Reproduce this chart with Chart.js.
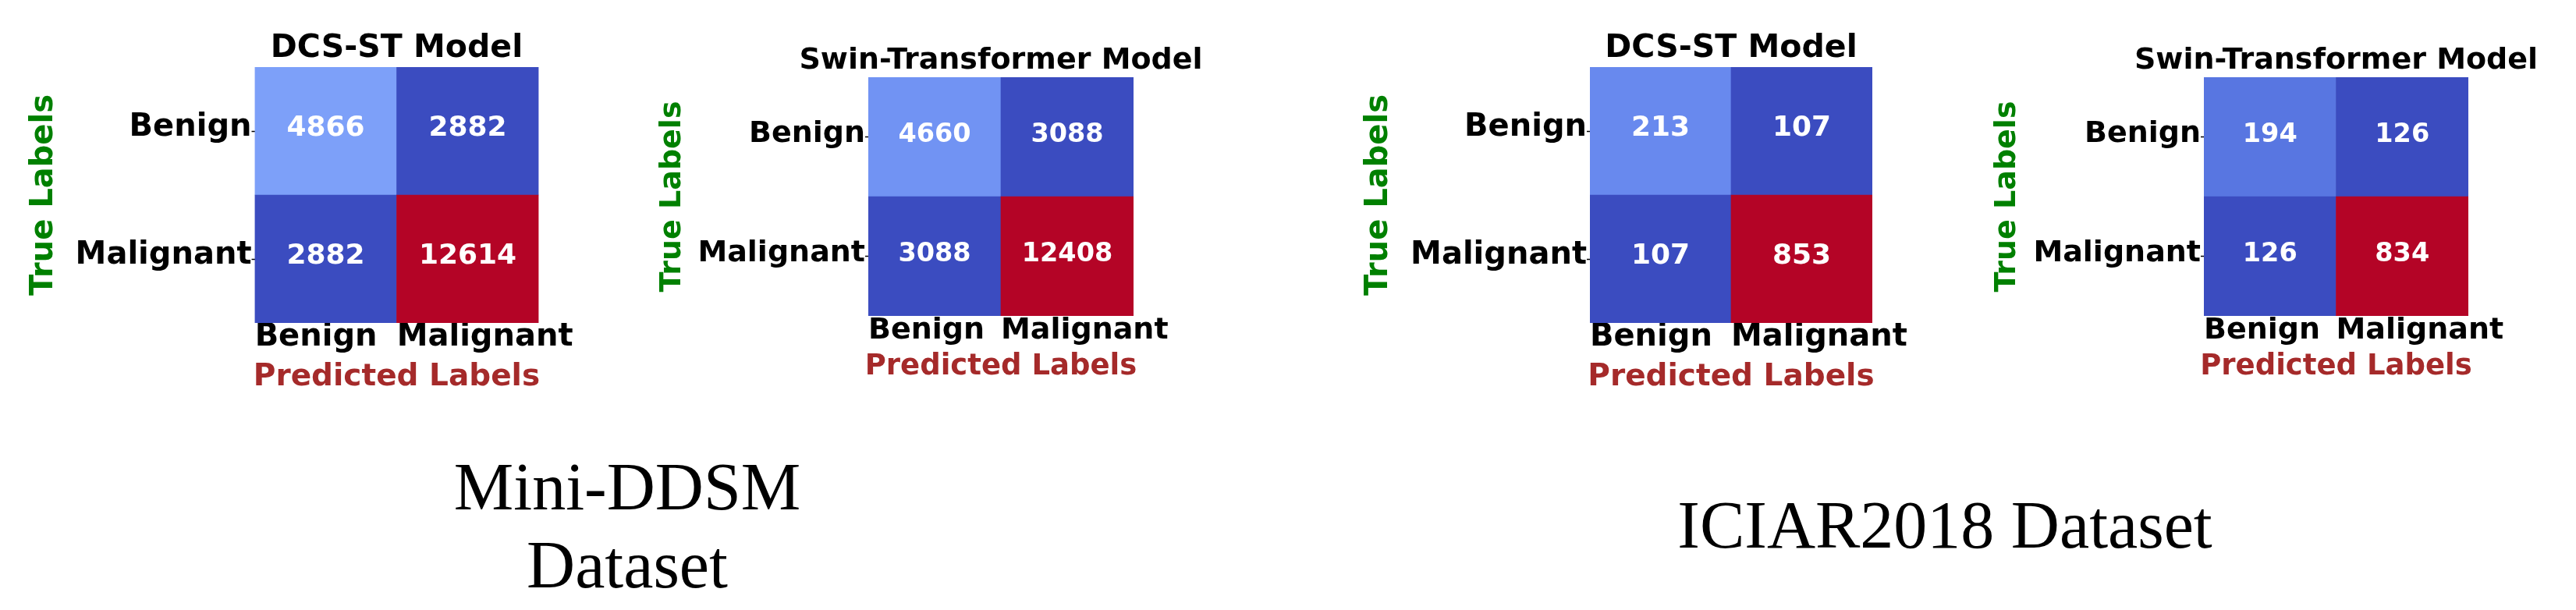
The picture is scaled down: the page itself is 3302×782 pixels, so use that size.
<!DOCTYPE html>
<html>
<head>
<meta charset="utf-8">
<script src="https://cdn.jsdelivr.net/npm/chart.js@4.4.1/dist/chart.umd.min.js"></script>
<style>
  html, body { margin: 0; padding: 0; background: #fff; overflow: hidden; }
  body { width: 3302px; height: 782px; position: relative; }
  canvas.panel { position: absolute; top: 0; }
  .caption {
    position: absolute;
    font-family: 'Liberation Serif', 'Times New Roman', serif;
    font-size: 86px;
    line-height: 100px;
    color: #000;
    text-align: center;
    white-space: nowrap;
  }
</style>
</head>
<body>
<canvas id="cm0" class="panel"></canvas>
<canvas id="cm1" class="panel"></canvas>
<canvas id="cm2" class="panel"></canvas>
<canvas id="cm3" class="panel"></canvas>
<div id="cap0" class="caption" style="left:504px; top:574px; width:600px;"></div>
<div id="cap1" class="caption" style="left:2043px; top:623px; width:900px;"></div>
<script>
// class names (rows = true label, columns = predicted label)
const classLabels = ['Benign', 'Malignant'];
const panelTitles = ['DCS-ST Model', 'Swin-Transformer Model', 'DCS-ST Model', 'Swin-Transformer Model'];

// confusion matrices, rows: true Benign / Malignant
const miniDdsmDcsSt = [[4866, 2882], [2882, 12614]];
const miniDdsmSwin = [[4660, 3088], [3088, 12408]];
const iciarDcsSt = [[213, 107], [107, 853]];
const iciarSwin = [[194, 126], [126, 834]];

const datasetCaptions = [['Mini-DDSM', 'Dataset'], ['ICIAR2018 Dataset']];

const matrices = [miniDdsmDcsSt, miniDdsmSwin, iciarDcsSt, iciarSwin];

// placement of each panel on the page
const panelLayout = [
  {left: 0,     axisW: 326.5, plotW: 363.5, title: 41, font: 40, num: 36,   pred: 39, padTop: 42,   titleGap: 3,   yTitlePad: 37, xTickPad: -1, subPad: 10, padBottom: 17, yShift: -4},
  {left: 812.8, axisW: 300,   plotW: 340.2, title: 38, font: 38, num: 33.5, pred: 37, padTop: 59.5, titleGap: 1.5, yTitlePad: 30, xTickPad: 0,  subPad: 7,  padBottom: 31, yShift: -3.5},
  {left: 1738,  axisW: 300,   plotW: 362,   title: 41, font: 40, num: 36,   pred: 39, padTop: 42,   titleGap: 3,   yTitlePad: 10, xTickPad: -1, subPad: 10, padBottom: 17, yShift: -4},
  {left: 2525,  axisW: 300,   plotW: 339,   title: 38, font: 38, num: 33.5, pred: 37, padTop: 59.5, titleGap: 1.5, yTitlePad: 29, xTickPad: 0,  subPad: 7,  padBottom: 31, yShift: -3.5},
];

// matplotlib coolwarm, sampled every 1/16
const coolwarm = [
  [59,76,192],[77,104,215],[98,130,234],[119,154,247],[141,176,254],[163,194,255],
  [184,208,249],[204,217,238],[221,221,221],[236,211,197],[245,196,173],[247,177,148],
  [244,154,123],[236,127,99],[222,96,77],[203,62,56],[180,4,38]
];
function coolwarmColor(t) {
  t = Math.min(1, Math.max(0, t));
  const p = t * (coolwarm.length - 1);
  const i = Math.min(coolwarm.length - 2, Math.floor(p));
  const f = p - i;
  const c = coolwarm[i].map((v, k) => Math.round(v + (coolwarm[i + 1][k] - v) * f));
  return 'rgb(' + c.join(',') + ')';
}

Chart.defaults.font.family = "'DejaVu Sans', sans-serif";
Chart.defaults.color = '#000';

// writes the count in the middle of each cell
const cellLabels = {
  id: 'cellLabels',
  afterDatasetsDraw(chart, args, opts) {
    const ctx = chart.ctx;
    ctx.save();
    ctx.font = 'bold ' + opts.size + "px 'DejaVu Sans', sans-serif";
    ctx.fillStyle = '#ffffff';
    ctx.textAlign = 'center';
    ctx.textBaseline = 'middle';
    chart.data.datasets.forEach(function(ds, i) {
      chart.getDatasetMeta(i).data.forEach(function(bar, j) {
        const p = bar.getCenterPoint();
        ctx.fillText(String(ds.counts[j]), p.x, p.y + opts.shift);
      });
    });
    ctx.restore();
  }
};

function drawPanel(idx) {
  const m = matrices[idx];
  const lay = panelLayout[idx];
  const canvas = document.getElementById('cm' + idx);
  canvas.width = Math.round(lay.axisW * 2 + lay.plotW);
  canvas.height = 520;
  canvas.style.left = lay.left + 'px';

  const flat = m.flat();
  const vmin = Math.min.apply(null, flat);
  const vmax = Math.max.apply(null, flat);
  const nRows = classLabels.length;

  // stacked bars: first dataset sits at the bottom, so rows go in reverse
  const datasets = m.slice().reverse().map(function(row) {
    return {
      data: row.map(function() { return 1; }),
      counts: row,
      backgroundColor: row.map(function(v) { return coolwarmColor((v - vmin) / (vmax - vmin)); }),
      borderWidth: 0,
      barPercentage: 1,
      categoryPercentage: 1,
    };
  });

  const tickFont = {size: lay.font, weight: 'bold', lineHeight: 1};

  new Chart(canvas, {
    type: 'bar',
    data: {labels: classLabels, datasets: datasets},
    plugins: [cellLabels],
    options: {
      responsive: false,
      animation: false,
      devicePixelRatio: 1,
      layout: {padding: {top: lay.padTop, bottom: lay.padBottom, left: 0, right: 0}},
      plugins: {
        legend: {display: false},
        tooltip: {enabled: false},
        title: {
          display: true,
          text: panelTitles[idx],
          color: '#000',
          font: {size: lay.title, weight: 'bold', lineHeight: 1},
          padding: {top: 0, bottom: lay.titleGap},
        },
        subtitle: {
          display: true,
          position: 'bottom',
          text: 'Predicted Labels',
          color: '#a52a2a',
          font: {size: lay.pred, weight: 'bold', lineHeight: 1},
          padding: {top: lay.subPad, bottom: 0},
        },
        cellLabels: {size: lay.num, shift: lay.yShift + 1},
      },
      scales: {
        x: {
          type: 'category',
          stacked: true,
          grid: {display: false, drawTicks: false},
          border: {display: false},
          ticks: {
            font: tickFont,
            color: '#000',
            align: 'start',
            labelOffset: -lay.plotW / 4,
            padding: lay.xTickPad,
            maxRotation: 0,
            minRotation: 0,
            autoSkip: false,
          },
          afterFit: function(s) { s.height = 40; s.paddingLeft = 0; s.paddingRight = 0; },
        },
        y: {
          type: 'linear',
          position: 'left',
          stacked: true,
          min: 0,
          max: nRows,
          grid: {display: true, drawOnChartArea: false, drawTicks: true, tickLength: 4, tickColor: '#000', tickWidth: 1.5},
          border: {display: false},
          ticks: {
            font: tickFont,
            color: '#000',
            padding: 0,
            labelOffset: lay.yShift,
            autoSkip: false,
            callback: function(v) { return classLabels[Math.round(nRows - 0.5 - v)]; },
          },
          afterBuildTicks: function(s) {
            s.ticks = classLabels.map(function(c, i) { return {value: nRows - 0.5 - i}; });
          },
          title: {
            display: true,
            text: 'True Labels',
            color: '#008000',
            font: {size: lay.font, weight: 'bold', lineHeight: 1},
            padding: {top: lay.yTitlePad, bottom: 0},
          },
          afterFit: function(s) { s.width = lay.axisW; s.paddingTop = 0; s.paddingBottom = 0; },
        },
        yRight: {
          type: 'linear',
          position: 'right',
          display: true,
          grid: {display: false, drawTicks: false},
          border: {display: false},
          ticks: {display: false},
          afterFit: function(s) { s.width = lay.axisW; },
        },
      },
    },
  });
}

for (let i = 0; i < matrices.length; i++) drawPanel(i);

datasetCaptions.forEach(function(lines, i) {
  const el = document.getElementById('cap' + i);
  lines.forEach(function(line, k) {
    if (k > 0) el.appendChild(document.createElement('br'));
    el.appendChild(document.createTextNode(line));
  });
});
</script>
</body>
</html>
